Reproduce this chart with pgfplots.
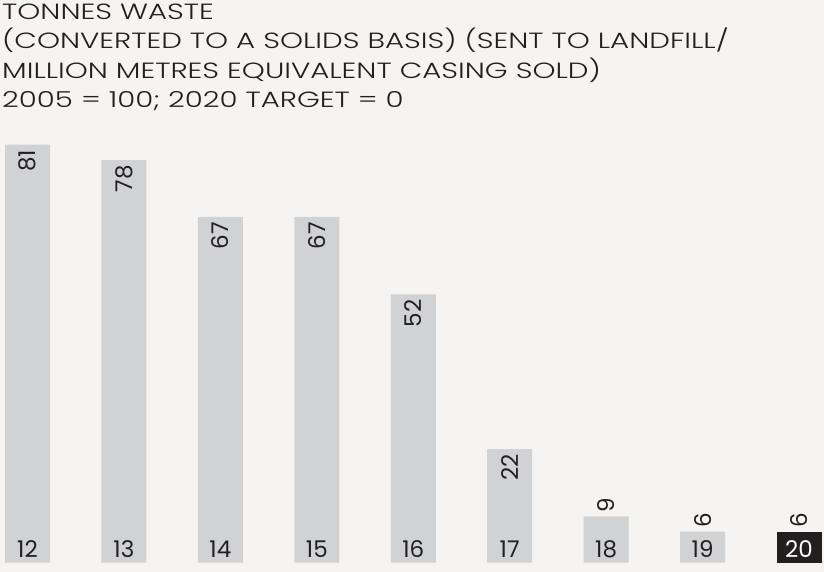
\documentclass[border=0pt]{standalone}
\usepackage{fontspec}
\setmainfont{Poppins}
\newfontfamily\titlefont{Poppins Light}[FakeStretch=1.33]
\usepackage{pgfplots}
\pgfplotsset{compat=1.18}
\definecolor{bg}{HTML}{F5F4F2}
\definecolor{barg}{HTML}{D1D2D4}
\definecolor{ink}{HTML}{231F20}

\begin{document}
\begin{tikzpicture}
  % background, 1pt = 1px of the reference
  \fill[bg] (0pt,-9.3pt) rectangle (824pt,562.7pt);
  \begin{axis}[
    at={(0pt,0pt)}, anchor=south west,
    scale only axis,
    width=824pt, height=432.7pt,
    xmin=-0.2852, xmax=8.259,
    ymin=0, ymax=83.86,
    axis on top,
    axis line style={draw=none},
    major tick length=0pt,
    ytick=\empty,
    xtick={0,...,8},
    xticklabels={12,13,14,15,16,17,18,19,\textcolor{white}{20}},
    xticklabel style={anchor=base, yshift=5pt, font=\fontsize{23}{23}\selectfont, text=ink},
    /pgf/number format/assume math mode=true,
    clip=false,
    nodes near coords,
    every node near coord/.append style={font=\fontsize{23}{23}\selectfont, text=ink, rotate=90, outer sep=0pt},
  ]
    % tall bars: value inside the top of the bar
    \addplot[ybar, bar shift=0pt, bar width=45pt, fill=barg, draw=none,
      every node near coord/.append style={anchor=east, inner xsep=5pt}]
      coordinates {(0,81) (1,78) (2,67) (3,67) (4,52) (5,22)};
    % short bars: value above the bar
    \addplot[ybar, bar shift=0pt, bar width=45pt, fill=barg, draw=none,
      every node near coord/.append style={anchor=west, inner xsep=4pt}]
      coordinates {(6,9) (7,6)};
    \addplot[ybar, bar shift=0pt, bar width=45pt, fill=ink, draw=none,
      every node near coord/.append style={anchor=west, inner xsep=4pt}]
      coordinates {(8,6)};
  \end{axis}
  \begin{scope}[every node/.style={anchor=base west, inner sep=0pt, text=ink, font=\titlefont\fontsize{22}{22}\selectfont}]
    \node at (2pt,543.2pt) {TONNES WASTE};
    \node at (2pt,513.7pt) {(CONVERTED TO A SOLIDS BASIS) (SENT TO LANDFILL/};
    \node at (2pt,484.2pt) {MILLION METRES EQUIVALENT CASING SOLD)};
    \node at (2pt,454.7pt) {2005 = 100; 2020 TARGET = 0};
  \end{scope}
\end{tikzpicture}
\end{document}
